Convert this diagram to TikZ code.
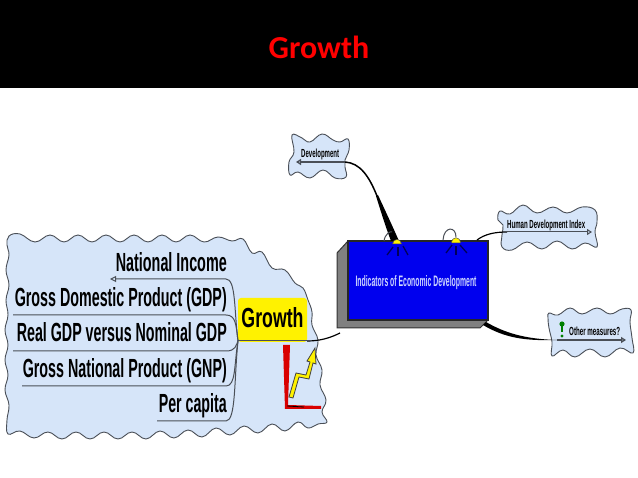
\documentclass[tikz,border=0pt]{standalone}
\usepackage{graphicx}
\usepackage{fontspec}
\setmainfont{Liberation Sans}
\newfontfamily\titlefont{Carlito}
\usetikzlibrary{arrows.meta}
\definecolor{cloudblue}{HTML}{D6E5F9}
\definecolor{linegray}{HTML}{4A4F57}
\definecolor{raydark}{HTML}{00005A}
\definecolor{boxblue}{HTML}{0000EE}
\definecolor{labelwhite}{HTML}{CCD4FF}
\newcommand{\fitbig}[2]{\resizebox{#1pt}{19pt}{\bfseries\vphantom{(}#2}}
\newcommand{\fitsmall}[2]{\resizebox{#1pt}{8.5pt}{\bfseries\vphantom{(}#2}}
\tikzset{
  wavy/.style={draw=linegray,fill=cloudblue,line width=.9pt},
  bigtext/.style={inner sep=0pt,text=black,anchor=base east},
  smalltext/.style={inner sep=0pt,text=black,anchor=base west},
  branch/.style={draw=linegray,line width=1pt},
  ray/.style={draw=raydark,line width=1.3pt},
  handle/.style={draw=linegray,line width=1pt},
}
\begin{document}
\begin{tikzpicture}[x=1pt,y=-1pt]
\useasboundingbox (0,0) rectangle (638,478);
\fill [white] (0,0) rectangle (638,478);
%title bar
\fill [black] (0,0) rectangle (638,88);
\node (title) at (319,47) {\titlefont\bfseries\fontsize{32}{34}\selectfont\textcolor{red}{Growth}};
%left cloud
\draw [wavy] plot [smooth cycle,tension=.7] coordinates {(9,236) (20,234) (35,242) (50,235) (64,242) (78,235) (92,242) (106,235) (120,242) (134,235) (148,242) (162,235) (176,242) (190,235) (204,242) (218,237) (232,241) (243,239) (252,253) (262,252) (272,268) (285,270) (295,283) (303,288) (308,300) (312,312) (312,325) (318,340) (316,355) (322,370) (320,385) (326,400) (322,412) (327,422) (318,424) (308,428) (298,422) (285,431) (272,424) (258,433) (244,426) (230,435) (216,428) (202,437) (188,430) (174,438) (160,431) (146,439) (132,432) (118,439) (104,432) (90,439) (76,432) (62,439) (48,432) (34,438) (20,431) (8,434) (7,420) (9,405) (5,390) (8,375) (5,360) (8,345) (5,330) (8,315) (6,300) (9,285) (6,270) (9,255) (7,245)};
%small clouds
\draw [wavy] plot [smooth cycle,tension=.7] coordinates {(292,135) (302,138) (310,142) (322,134) (333,140) (340,142) (348,139) (349,150) (345,160) (345,167) (346,177) (335,178) (323,170) (310,178) (298,172) (290,175) (289,162) (294,152)};
\draw [wavy] plot [smooth cycle,tension=.7] coordinates {(500,211) (510,214) (523,205) (537,213) (553,207) (567,213) (582,207) (595,210) (597,222) (595,232) (597,247) (585,243) (572,249) (557,241) (542,249) (527,242) (512,250) (502,247) (502,235) (503,225) (498,220)};
\draw [wavy] plot [smooth cycle,tension=.7] coordinates {(549,313) (558,315) (570,308) (582,314) (597,308) (610,314) (622,309) (631,310) (630,322) (632,338) (633,353) (620,348) (605,357) (590,349) (575,357) (563,350) (552,356) (552,342) (549,328) (548,318)};
%main box
\fill [gray,draw=black!80,line width=1pt] (337,253) -- (348,241) -- (488,320) -- (480,328) -- (337,328) -- cycle;
\node (indicators) [fill=boxblue,draw=black!85,line width=1.4pt,minimum width=140pt,minimum height=79pt,inner sep=0pt] at (418,280.5) {};
\node (indicatorstext) [inner sep=0pt,text=labelwhite,anchor=base] at (416,287) {\resizebox{121pt}{11pt}{\bfseries\vphantom{(}Indicators of Economic Development}};
%growth
\node (growth) [fill=yellow,rounded corners=3pt,minimum width=69pt,minimum height=44pt,inner sep=0pt] at (272.5,320) {\resizebox{62pt}{20pt}{\bfseries\vphantom{(}Growth}};
\coordinate (hub) at (238,341);
\coordinate (growthend) at (307,341);
\coordinate (boxside) at (340,333);
\draw [branch] (hub) -- (growthend);
\draw [black,line width=1.2pt] (growthend) .. controls (320,341) and (330,338) .. (boxside);
%labels
\node (income) [bigtext] at (227,272) {\fitbig{111}{National Income}};
\node (gdp) [bigtext] at (227,307) {\fitbig{212}{Gross Domestic Product (GDP)}};
\node (real) [bigtext] at (227,342) {\fitbig{210}{Real GDP versus Nominal GDP}};
\node (gnp) [bigtext] at (227,378) {\fitbig{204}{Gross National Product (GNP)}};
\node (capita) [bigtext] at (227,413) {\fitbig{68}{Per capita}};
%branches
\coordinate (incomeend) at (110,279);
\coordinate (gdpend) at (13,315);
\coordinate (realend) at (13,351);
\coordinate (gnpend) at (22,386);
\coordinate (capitaend) at (157,421);
\draw [branch,-{Triangle[open,length=6pt,width=6pt]}] (hub) .. controls (234,310) and (236,279) .. (226,279) -- (incomeend);
\draw [branch] (hub) .. controls (236,325) and (236,315) .. (226,315) -- (gdpend);
\draw [branch] (hub) .. controls (236,345) and (236,351) .. (226,351) -- (realend);
\draw [branch] (hub) .. controls (234,365) and (236,386) .. (226,386) -- (gnpend);
\draw [branch] (hub) .. controls (234,380) and (236,421) .. (226,421) -- (capitaend);
%chart
\fill [red!85!black] (283,345) -- (290,345) -- (288,405) -- (321,406) -- (321,409) -- (285,409) -- cycle;
\draw [black,line width=.8pt] (287,406) -- (304,407);
\fill [yellow,draw=black!75,line width=.8pt] (289,397) -- (296,373) -- (306,375) -- (310,362) -- (307,361) -- (315,348) -- (316,364) -- (313,363) -- (309,379) -- (299,377) -- (293,398) -- cycle;
%connectors
\coordinate (devend) at (345,162);
\coordinate (devbend) at (377,196);
\coordinate (devlamp) at (399,241);
\coordinate (humanend) at (507,232);
\coordinate (humanfoot) at (477,240);
\coordinate (otherend) at (557,340);
\coordinate (otherfoot) at (483,325);
\draw [black,line width=1.5pt] (devend) .. controls (360,163) and (369,176) .. (devbend);
\fill [black] (376,196) .. controls (381,212) and (386,228) .. (391,241) -- (devlamp) .. controls (392,225) and (384,208) .. (378,195) -- cycle;
\draw [black,line width=1.2pt] (humanfoot) .. controls (485,234) and (495,232) .. (humanend);
\fill [black] (otherfoot) .. controls (505,338) and (525,341) .. (otherend) .. controls (525,339) and (505,333) .. (486,322) -- cycle;
%lamps
\draw [handle] (384,241) .. controls (385,234) and (390,231) .. (392,232);
\draw [handle] (443,240) .. controls (444,226) and (456,226) .. (456,237);
\draw [ray] (393,247) -- (387,255);
\draw [ray] (398,247) -- (398,256);
\draw [ray] (403,246) -- (408,255);
\draw [ray] (452,245) -- (446,253);
\draw [ray] (456,246) -- (456,255);
\draw [ray] (460,245) -- (467,253);
\fill [yellow,draw=black!70,line width=.5pt] (392.5,244) .. controls (393,238) and (401,238) .. (401.5,244) -- cycle;
\fill [yellow,draw=black!70,line width=.5pt] (451.5,243) .. controls (452,236) and (460,236) .. (460.5,243) -- cycle;
%small labels
\node (devtext) [smalltext] at (301,158) {\fitsmall{38}{Development}};
\node (humantext) [smalltext] at (507,229) {\fitsmall{78}{Human Development Index}};
\node (othertext) [smalltext] at (569,336) {\fitsmall{51}{Other measures?}};
\coordinate (devtip) at (296,162);
\coordinate (humantip) at (592,232);
\coordinate (othertip) at (626,340);
\draw [linegray,line width=1.4pt,-{Triangle[open,length=5pt,width=6pt]}] (devend) -- (devtip);
\draw [linegray,line width=1pt,-{Triangle[open,length=5pt,width=6pt]}] (humanend) -- (humantip);
\draw [linegray,line width=1.4pt,-{Triangle[open,length=5pt,width=6pt]}] (otherend) -- (othertip);
%exclamation mark
\draw [green!50!black,line width=1.8pt] (562,324) -- (562,332);
\fill [green!50!black] (562,324) circle (2.6);
\fill [green!50!black] (562,336) circle (1.6);
\end{tikzpicture}
\end{document}
